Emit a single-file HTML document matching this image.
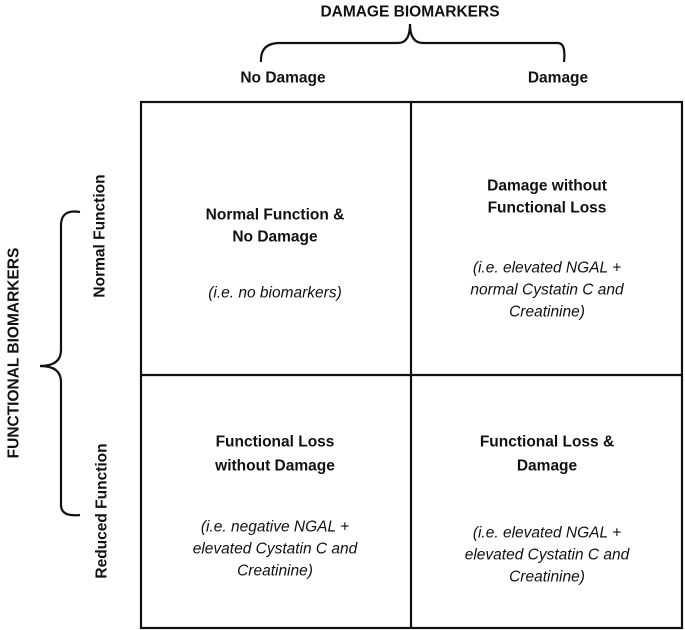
<!DOCTYPE html>
<html><head><style>
body{margin:0;width:685px;height:630px;background:#fff;position:relative;overflow:hidden;font-family:"Liberation Sans",sans-serif;color:#111}
.t{position:absolute;white-space:nowrap;transform:translate(-50%,-50%);font-size:15.5px;line-height:1}
.b{font-weight:bold}
.i{font-style:italic}
.v{transform:translate(-50%,-50%) rotate(-90deg)}
</style></head><body>
<svg width="685" height="630" style="position:absolute;left:0;top:0">
<g fill="none" stroke="#111" stroke-width="2.2">
<rect x="141" y="102" width="541" height="526"/>
<line x1="411" y1="102" x2="411" y2="628"/>
<line x1="141" y1="375" x2="682" y2="375"/>
<path d="M261 62 Q260 44 278 43 L398 43 Q410 43 410 24 Q410 43 423 43 L558 43 Q566 43 564 62"/>
<path d="M80 212 Q61 209 61 225 L61 350 Q61 366 40 366 Q61 366 61 382 L61 505 Q61 517 80 515"/>
</g>
</svg>
<div class="t b" style="left:410px;top:12px">DAMAGE BIOMARKERS</div>
<div class="t b" style="left:283px;top:78px">No Damage</div>
<div class="t b" style="left:558px;top:78px">Damage</div>
<div class="t b v" style="left:14px;top:353px">FUNCTIONAL BIOMARKERS</div>
<div class="t b v" style="left:100px;top:236px">Normal Function</div>
<div class="t b v" style="left:102px;top:511px">Reduced Function</div>

<div class="t b" style="left:275px;top:215px">Normal Function &amp;</div>
<div class="t b" style="left:275px;top:237px">No Damage</div>
<div class="t i" style="left:275px;top:293px">(i.e. no biomarkers)</div>

<div class="t b" style="left:547px;top:186px">Damage without</div>
<div class="t b" style="left:547px;top:208px">Functional Loss</div>
<div class="t i" style="left:547px;top:268px">(i.e. elevated NGAL +</div>
<div class="t i" style="left:547px;top:290px">normal Cystatin C and</div>
<div class="t i" style="left:547px;top:312px">Creatinine)</div>

<div class="t b" style="left:275px;top:442px">Functional Loss</div>
<div class="t b" style="left:275px;top:466px">without Damage</div>
<div class="t i" style="left:275px;top:527px">(i.e. negative NGAL +</div>
<div class="t i" style="left:275px;top:549px">elevated Cystatin C and</div>
<div class="t i" style="left:275px;top:571px">Creatinine)</div>

<div class="t b" style="left:547px;top:442px">Functional Loss &amp;</div>
<div class="t b" style="left:547px;top:466px">Damage</div>
<div class="t i" style="left:547px;top:533px">(i.e. elevated NGAL +</div>
<div class="t i" style="left:547px;top:555px">elevated Cystatin C and</div>
<div class="t i" style="left:547px;top:577px">Creatinine)</div>
</body></html>
